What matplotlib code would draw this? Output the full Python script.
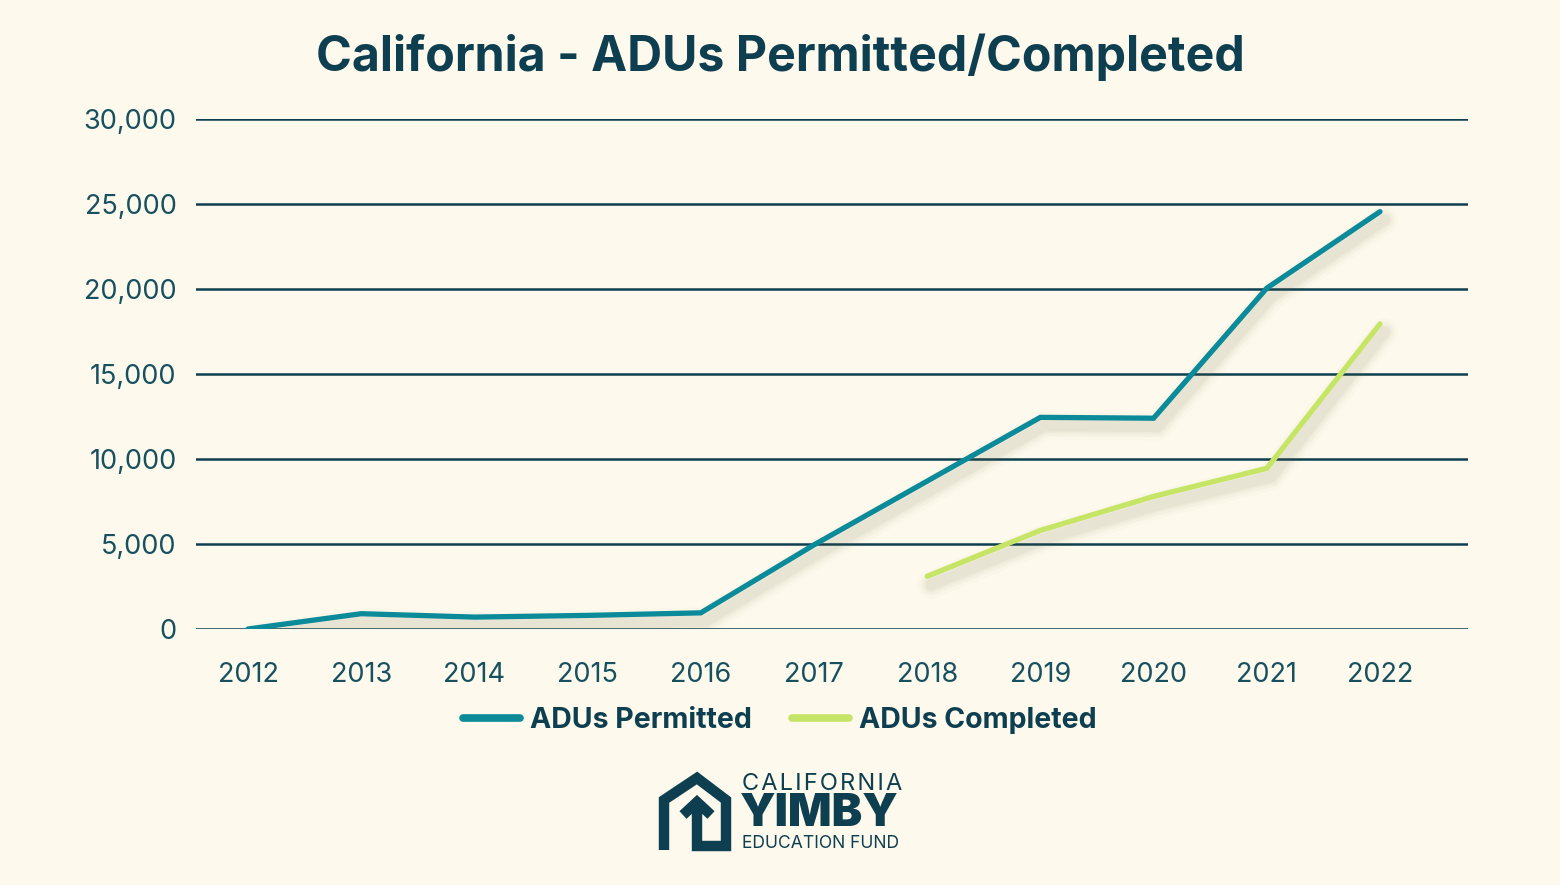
import matplotlib
matplotlib.use("Agg")
import matplotlib.pyplot as plt
import matplotlib.patheffects as pe
from matplotlib.ticker import FuncFormatter

years = [2012, 2013, 2014, 2015, 2016, 2017, 2018, 2019, 2020, 2021, 2022]
permitted = [0, 900, 700, 800, 950, 4950, 8700, 12450, 12400, 20050, 24550]
completed_years = [2018, 2019, 2020, 2021, 2022]
completed = [3100, 5800, 7800, 9450, 17950]

BG = "#FDF9EC"
INK = "#0E3F50"
TICK = "#17505F"
TEAL = "#0B8A9A"
LIME = "#C6E566"

plt.rcParams["font.family"] = ["Inter", "DejaVu Sans"]

W, H = 1560, 885
fig = plt.figure(figsize=(W / 100, H / 100), dpi=100, facecolor=BG)

# main chart area in pixel terms
left, right, top, bottom = 196, 1468, 119, 629
ax = fig.add_axes([left / W, 1 - bottom / H, (right - left) / W, (bottom - top) / H])
ax.set_facecolor(BG)


def shadow():
    effects = []
    for lw, a in [(20, 0.02), (15, 0.03), (11, 0.04), (8, 0.05)]:
        effects.append(pe.SimpleLineShadow(offset=(3, -6), shadow_color="#6b6440",
                                           alpha=a, linewidth=lw))
    effects.append(pe.Normal())
    return effects


ax.plot(years, permitted, color=TEAL, lw=3.8, solid_capstyle="round",
        solid_joinstyle="miter", label="ADUs Permitted", path_effects=shadow(), zorder=3)
ax.plot(completed_years, completed, color=LIME, lw=3.8, solid_capstyle="round",
        solid_joinstyle="miter", label="ADUs Completed", path_effects=shadow(), zorder=3)

ax.set_ylim(0, 30000)
ax.set_xlim(2012 - 52 / 113.2, 2022 + 88 / 113.2)
ax.set_yticks(range(0, 30001, 5000))
ax.set_xticks(years)
ax.yaxis.set_major_formatter(FuncFormatter(lambda v, p: f"{int(v):,}"))
ax.grid(axis="y", color=INK, lw=1.8, zorder=1)
ax.set_axisbelow(True)
for s in ax.spines.values():
    s.set_visible(False)
ax.tick_params(axis="both", length=0, colors=TICK, labelsize=19.5)
ax.tick_params(axis="y", pad=14)
ax.tick_params(axis="x", pad=24)

leg = ax.legend(loc="center", bbox_to_anchor=(780 / W, 1 - 720 / H), bbox_transform=fig.transFigure,
                ncol=2, frameon=False, handlelength=2.0, handletextpad=0.35, columnspacing=1.4,
                prop={"weight": "bold", "size": 20.5})
for txt in leg.get_texts():
    txt.set_color(INK)
for h in leg.get_lines():
    h.set_linewidth(5.5)
    h.set_solid_capstyle("round")
    h.set_path_effects([])

fig.text(780 / W, 1 - 57 / H, "California - ADUs Permitted/Completed", ha="center", va="center",
         fontsize=34.8, fontweight="bold", color=INK)

# logo overlay in pixel coordinates
lax = fig.add_axes([0, 0, 1, 1], zorder=-1)
lax.set_xlim(0, W)
lax.set_ylim(H, 0)
lax.axis("off")
lw_logo = 7.5
lax.plot([697, 697, 726, 726, 697, 664, 664], [808, 846, 846, 800, 778, 800, 850],
         color=INK, lw=lw_logo, solid_joinstyle="miter", solid_capstyle="butt")
lax.plot([683, 697, 711], [815, 802, 815], color=INK, lw=lw_logo,
         solid_joinstyle="miter", solid_capstyle="butt")
lax.text(742, 784, "C A L I F O R N I A".replace(" ", "\u200a"), ha="left", va="center",
         fontsize=17, color=INK)
lax.text(740, 814, "YIMBY", ha="left", va="center", fontsize=33, fontweight="black", color=INK)
lax.text(742, 844, "EDUCATION FUND", ha="left", va="center", fontsize=12.6, color=INK)

fig.savefig("out.png", dpi=100, facecolor=BG)
